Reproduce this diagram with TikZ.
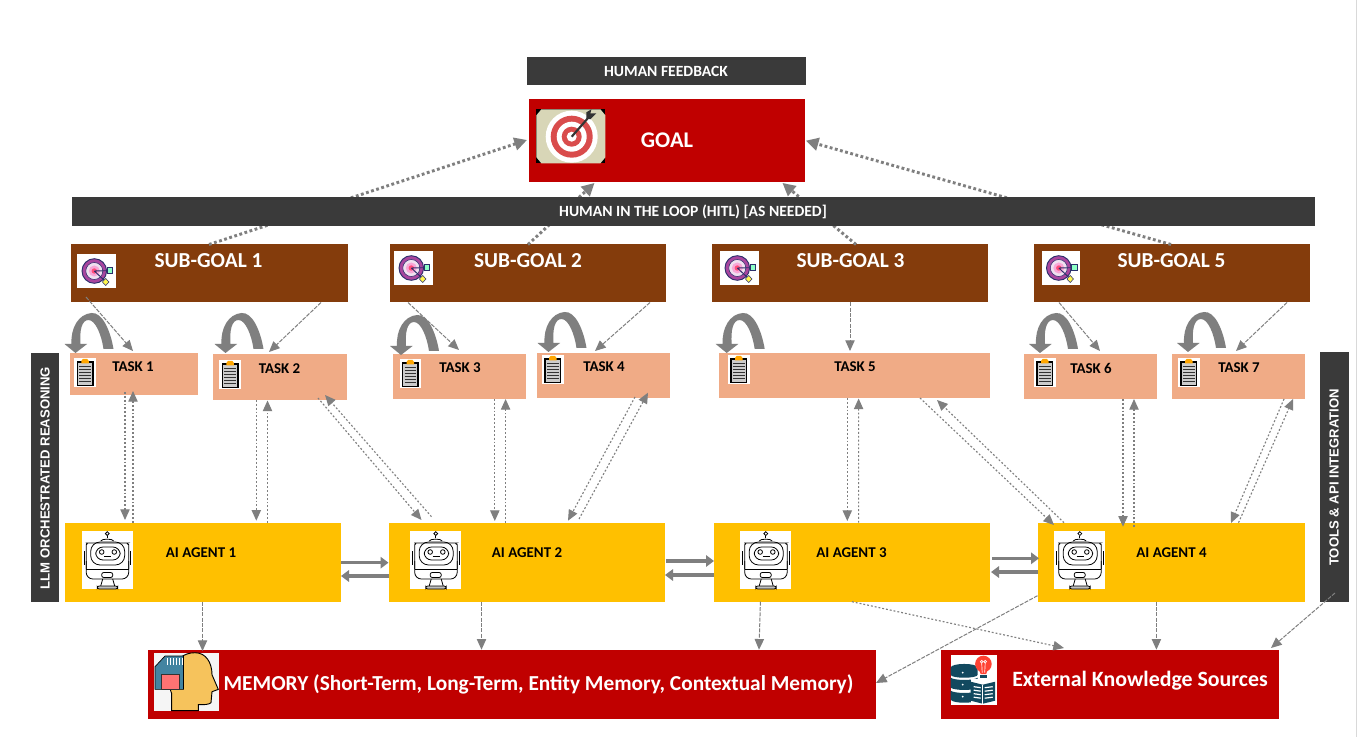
\documentclass[tikz,border=0pt]{standalone}
\usepackage{fontspec}
\setmainfont{Carlito}
\newfontfamily\widefont{Liberation Sans}
\usetikzlibrary{arrows.meta}
\definecolor{cred}{HTML}{C00000}
\definecolor{cbrown}{HTML}{843C0C}
\definecolor{ctask}{HTML}{F0AB86}
\definecolor{cagent}{HTML}{FFC000}
\definecolor{cbar}{HTML}{3A3A3A}
\definecolor{cgray}{HTML}{7F7F7F}
\definecolor{cteal}{HTML}{12495F}
\definecolor{cring}{HTML}{A8459E}
\definecolor{cnavy}{HTML}{2B2F6B}
\definecolor{cskin}{HTML}{F6C35C}
\newdimen\px \px=0.75pt
% \boxn{name}{x1}{y1}{x2}{y2}{colour}
\newcommand\boxn[6]{\pgfmathsetmacro\bw{(#4-#2)*0.75}\pgfmathsetmacro\bh{(#5-#3)*0.75}%
  \node[rectangle,fill=#6,inner sep=0pt,outer sep=0pt,anchor=north west,minimum width=\bw pt,minimum height=\bh pt] (#1) at (#2,#3) {};}
% \link[style]{a}{dx}{dy}{b}{dx}{dy}: offsets from north west corners, in px, y downward
\newcommand\link[7][thindot]{\draw[#1] ([xshift=#3\px,yshift=-#4\px]#2.north west) -- ([xshift=#6\px,yshift=-#7\px]#5.north west);}
\tikzset{
  thickdot/.style={draw=cgray,line width=2.2pt,dash pattern=on 2.1pt off 1.9pt,-{Triangle[length=9.5pt,width=9.5pt]}},
  thindot/.style={draw=cgray,line width=0.85pt,dash pattern=on 1.4pt off 1.5pt,-{Triangle[length=8pt,width=7pt]}},
  thindash/.style={draw=cgray,line width=0.75pt,dash pattern=on 3pt off 1pt,-{Triangle[length=8pt,width=7pt]}},
  solidarrow/.style={draw=cgray,line width=2.3pt,-{Triangle[length=6pt,width=8.5pt]}},
  whitebold/.style={text=white,font=\fontsize{16}{18}\selectfont\bfseries,inner sep=0pt},
  barlabel/.style={text=white,font=\fontsize{11.7}{14}\selectfont\bfseries,inner sep=0pt},
  sidelabel/.style={text=white,font=\fontsize{9.85}{12}\selectfont\widefont\bfseries,inner sep=0pt,rotate=90},
  tasklabel/.style={text=black,font=\fontsize{11.2}{13}\selectfont\bfseries,inner sep=0pt},
  goalicon/.pic={
    \fill[black] (0,0) rectangle (69,54);
    \fill[black!12!white!85!olive] (5,0) -- (64,0) -- (69,6) -- (69,48) -- (64,54) -- (5,54) -- (0,48) -- (0,6) -- cycle;
    \fill[white] (35.3,27.4) circle[radius=26];
    \fill[red!65!white!85!black] (35.3,27.4) circle[radius=21];
    \fill[white] (35.3,27.4) circle[radius=15];
    \fill[red!65!white!85!black] (35.3,27.4) circle[radius=10];
    \fill[white] (35.3,27.4) circle[radius=5];
    \draw[black!80,line width=1.6pt] (35.3,27.4) -- (54,6);
    \fill[black!80] (50,3) -- (55,0) -- (54,4) -- (60,4) -- (54,10) -- (50,9) -- cycle;
  },
  subicon/.pic={
    \fill[white] (0,0) rectangle (38.5,34);
    \draw[draw=cnavy,fill=cring,line width=0.7pt] (17.3,17) circle[radius=12.3];
    \draw[draw=cnavy,fill=violet!12!white,line width=0.4pt] (17.3,17) circle[radius=8.5];
    \fill[magenta!35!white] (17.3,17) circle[radius=5.5];
    \fill[red!75!magenta!70!white] (17.3,17) circle[radius=2.7];
    \draw[cnavy,line width=0.7pt] (17.3,17) -- (30,16.7) (17.3,17) -- (27,26);
    \draw[draw=cnavy,fill=green!50!cyan!45!white,line width=0.4pt] (30,13.7) rectangle (35.5,19.7);
    \draw[draw=cnavy,fill=yellow!70!white,line width=0.4pt] (28.7,24.5) -- (32,28) -- (28.7,31.5) -- (25.4,28) -- cycle;
  },
  clipicon/.pic={
    \fill[white] (0,0) rectangle (21.5,29);
    \draw[black,fill=black!20,line width=1.1pt] (3,4) rectangle (18.5,27.5);
    \foreach \yy in {8.5,11.5,14.5,17.5,20.5,23.5}{\draw[black!80,line width=0.75pt] (5,\yy) -- (16.5,\yy);}
    \fill[orange!70!yellow] (7,3) -- (8.5,1) -- (13,1) -- (14.5,3) -- (14.5,5.5) -- (7,5.5) -- cycle;
  },
  roboticon/.pic={
    \fill[white] (0,0) rectangle (51,58);
    \begin{scope}[black,line width=0.6pt]
    \draw (25.6,2.6) circle[radius=1.9];
    \draw (25.6,4.5) -- (25.6,7);
    \draw (19,10) .. controls (20,7.5) and (31,7.5) .. (32,10);
    \draw[rounded corners=4pt] (4.5,38) -- (4.5,19) .. controls (4.5,14) and (7,12) .. (10,12) -- (41,12) .. controls (44,12) and (47,14) .. (47,19) -- (47,38);
    \draw[rounded corners=5pt] (4.5,30) -- (4.5,48) -- (47,48) -- (47,30);
    \draw (4.5,38) -- (47,38);
    \draw[rounded corners=7pt] (9,11) rectangle (43,34);
    \draw[rounded corners=5.5pt] (14,16) rectangle (38.5,29);
    \draw (20,21) circle[radius=2.3] (32.6,21) circle[radius=2.3];
    \draw (22.5,25.3) -- (29.5,25.3);
    \draw[rounded corners=1.5pt] (20,41.5) rectangle (31,46.5);
    \draw (21,48) -- (19,55) (31,48) -- (33,55);
    \draw[rounded corners=1.5pt,fill=black!25] (15.5,55) rectangle (36,58);
    \draw (2.5,20) -- (2.5,34) (49,20) -- (49,34);
    \end{scope}
  },
  headicon/.pic={
    \fill[black!4] (0,0) rectangle (64.5,58);
    \draw[black,fill=cskin,line width=0.7pt] (17.7,58) -- (17.7,41) .. controls (12,28) and (18,0) .. (41,0) .. controls (52,0) and (58,10) .. (58,22) -- (64.3,36.7) -- (58,39) -- (57,50) .. controls (55,52) and (50,52) .. (44.3,52) -- (44.3,58) -- cycle;
    \draw[black,fill=cyan!60!black,line width=0.5pt] (1,14) -- (11,3.3) -- (29.5,3.3) -- (29.5,36.7) -- (1,36.7) -- cycle;
    \foreach \xx in {13,16,19,22,25,28}{\draw[white,line width=0.6pt] (\xx,5.5) -- (\xx,12);}
    \draw[black!80,fill=red!55!white,line width=0.5pt] (7,22) rectangle (25,36.7);
  },
  kbicon/.pic={
    \fill[white] (0,0) rectangle (46,50.5);
    \begin{scope}
    \fill[cteal] (0,13) .. controls (0,8) and (27,8) .. (27,13) -- (27,20) .. controls (27,24) and (0,24) .. (0,20) -- cycle;
    \fill[cteal] (0,23) .. controls (4,26) and (23,26) .. (27,23) -- (27,33) .. controls (23,36) and (4,36) .. (0,33) -- cycle;
    \fill[cteal] (0,36) .. controls (4,39) and (23,39) .. (27,36) -- (27,45) .. controls (25,49) and (2,49) .. (0,45) -- cycle;
    \fill[white] (12,18) circle[radius=1] (12,30) circle[radius=1] (12,42) circle[radius=1];
    \end{scope}
    \fill[red!85!orange!80!white] (32.7,9.3) circle[radius=8.3];
    \fill[red!85!orange!80!white] (28,14) -- (37,14) -- (35.5,19.5) -- (30,19.5) -- cycle;
    \draw[white,line width=0.5pt] (31,7) circle[radius=1.3] (34.5,7) circle[radius=1.3] (31,8.5) -- (31.5,18) (34.5,8.5) -- (34,18);
    \fill[cteal] (29.5,20.5) rectangle (36,23.5);
    \fill[white] (20,24.5) rectangle (46,50.5);
    \fill[cteal] (20,27) -- (32,30) -- (44.5,27) -- (44.5,46) -- (32,49) -- (20,46) -- cycle;
    \draw[white,line width=0.5pt] (32,30) -- (32,49);
    \foreach \yy in {33,36.5,40,43.5}{\draw[white,line width=0.9pt] (23,\yy-1) -- (30,\yy) (34,\yy) -- (42,\yy-1);}
  },
  loopicon/.pic={
    \fill[cgray] (0,0) -- (11.6,-9) -- (5,-9) .. controls (4,-22) and (6,-33) .. (13,-33) .. controls (20,-33) and (26,-18) .. (28,-4) -- (38,-4) .. controls (35,-22) and (27,-41) .. (16,-40) .. controls (3,-39) and (-5,-25) .. (-4,-9) -- (-11,-9) -- cycle;
  },
}
\begin{document}
\begin{tikzpicture}[x=0.75pt,y=-0.75pt]
\useasboundingbox (0,0) rectangle (1358,737);
\fill[white] (0,0) rectangle (1358,737);
\draw[black!15,line width=0.6pt] (1356.5,0) -- (1356.5,737);

% boxes
\boxn{goal}{528.5}{99}{805}{182}{cred}
\boxn{sg1}{71}{244.5}{347.5}{302.5}{cbrown}
\boxn{sg2}{390}{244.5}{666}{302.5}{cbrown}
\boxn{sg3}{712}{244.5}{988}{302.5}{cbrown}
\boxn{sg5}{1034}{244.5}{1309.5}{302.5}{cbrown}

% sub-goal to goal, passing behind the HITL bar
\link[thickdot]{sg1}{138}{0}{goal}{-1.5}{41}
\link[thickdot]{sg2}{138}{0}{goal}{66}{84}
\link[thickdot]{sg3}{144}{0}{goal}{254}{84}
\link[thickdot]{sg5}{137}{0}{goal}{277.3}{41.7}

\boxn{hf}{527}{57}{806}{85}{cbar}
\boxn{hitl}{72}{197}{1315}{226}{cbar}
\boxn{t1}{70}{353}{198}{395}{ctask}
\boxn{t2}{213}{354}{346.5}{400}{ctask}
\boxn{t3}{393}{354}{526}{399}{ctask}
\boxn{t4}{537}{353}{670}{398}{ctask}
\boxn{t5}{719}{353}{990}{398}{ctask}
\boxn{t6}{1024}{354}{1156.5}{399}{ctask}
\boxn{t7}{1172}{354}{1305}{399}{ctask}
\boxn{a1}{65}{522.7}{341}{601.7}{cagent}
\boxn{a2}{388.5}{522.7}{665}{601.7}{cagent}
\boxn{a3}{713.7}{522.7}{990}{601.7}{cagent}
\boxn{a4}{1037.5}{522.7}{1305}{601.7}{cagent}
\boxn{mem}{148}{649.7}{876}{718.5}{cred}
\boxn{ext}{941}{649.7}{1279}{718.5}{cred}
\boxn{llm}{31}{353}{59}{602}{cbar}
\boxn{tools}{1320}{352}{1348.5}{602}{cbar}

% icons
\pic (igoal) at (536.4,109.3) {goalicon};
\pic (is1) at (77,254) {subicon};
\pic (is2) at (394,251) {subicon};
\pic (is3) at (720,251) {subicon};
\pic (is5) at (1041.5,251) {subicon};
\pic (ic1) at (74.3,358) {clipicon};
\pic (ic2) at (219.4,360) {clipicon};
\pic (ic3) at (399.5,359) {clipicon};
\pic (ic4) at (542,355) {clipicon};
\pic (ic5) at (728,355) {clipicon};
\pic (ic6) at (1034,358) {clipicon};
\pic (ic7) at (1178,358) {clipicon};
\pic (ir1) at (81.7,531) {roboticon};
\pic (ir2) at (410.2,531) {roboticon};
\pic (ir3) at (740.2,531) {roboticon};
\pic (ir4) at (1054.2,531) {roboticon};
\pic (ihead) at (154,652.7) {headicon};
\pic (ikb) at (950.7,654.7) {kbicon};

% self loops
\pic (l1) at (75.5,353) {loopicon};
\pic (l2) at (225.5,353) {loopicon};
\pic (l3) at (401,355) {loopicon};
\pic (l4) at (548.5,352) {loopicon};
\pic (l5) at (726.7,353) {loopicon};
\pic (l6) at (1040,353) {loopicon};
\pic (l7) at (1188,352) {loopicon};

% sub-goal to task
\link[thindash]{sg1}{15}{52.5}{t1}{63}{-2}
\link[thindash]{sg1}{250}{58}{t2}{56}{-2}
\link[thindash]{sg2}{18}{58}{t3}{66}{-4}
\link[thindash]{sg2}{260}{58}{t4}{58}{-2}
\link[thindash]{sg3}{138}{58}{t5}{131}{-2}
\link[thindash]{sg5}{25}{58}{t6}{76}{-3}
\link[thindash]{sg5}{253}{58}{t7}{64}{-3}

% task and agent
\link{t1}{55}{39}{a1}{60}{-2.7}
\link{a1}{68}{0}{t1}{63}{38}
\link{t2}{43.3}{46}{a1}{191.3}{-2}
\link{a1}{202.5}{0}{t2}{54.5}{46.5}
\link{t2}{105}{44}{a2}{33}{-2.7}
\link{a2}{43}{-6}{t2}{112}{41}
\link{t3}{101.8}{45}{a2}{106.3}{-1.7}
\link{a2}{117.1}{0}{t3}{112.6}{45}
\link{t4}{98}{44}{a2}{179.5}{-2}
\link{a2}{190.5}{-3.7}{t4}{111}{39.7}
\link{t5}{128.3}{45}{a3}{133.6}{-1.7}
\link{a3}{144.9}{0}{t5}{139.6}{45.5}
\link{t5}{201}{45}{a4}{16.5}{2.3}
\link{a4}{26.5}{0}{t5}{218}{47}
\link{t6}{99}{45}{a4}{85.5}{4}
\link{a4}{96.5}{4.3}{t6}{110}{45}
\link{t7}{112}{45}{a4}{193.5}{0.3}
\link{a4}{201}{0}{t7}{121}{45}

% agent to agent
\link[solidarrow]{a1}{276}{40}{a2}{0}{40}
\link[solidarrow]{a2}{0}{53.3}{a1}{276}{53.3}
\link[solidarrow]{a2}{277.5}{38.3}{a3}{0.3}{38.3}
\link[solidarrow]{a3}{0}{52.3}{a2}{276.5}{52.3}
\link[solidarrow]{a3}{278.3}{35.6}{a4}{1.5}{35.6}
\link[solidarrow]{a4}{0}{49.3}{a3}{277.3}{49.3}

% agents to stores
\link[thindash]{a1}{137.5}{79}{mem}{54.5}{1.3}
\link[thindash]{a2}{93}{79}{mem}{333.5}{0}
\link[thindash]{a3}{46.7}{79}{mem}{611}{0}
\link[thindash]{a4}{0}{73}{mem}{728}{33.3}
\link[thindot]{a3}{138.3}{79}{ext}{123}{-1.7}
\link[thindash]{a4}{118.9}{79}{ext}{215.4}{0}
\link[thindash]{tools}{15}{241}{ext}{330}{-1.7}

% labels
\node[barlabel] (thf) at (666,71) {HUMAN FEEDBACK};
\node[whitebold,font=\fontsize{16.8}{18}\selectfont\bfseries] (tgoal) at (667,140) {GOAL};
\node[barlabel] (thitl) at (693,211.5) {HUMAN IN THE LOOP (HITL) [AS NEEDED]};
\node[whitebold] (ts1) at (208.5,261) {SUB-GOAL 1};
\node[whitebold] (ts2) at (528,261) {SUB-GOAL 2};
\node[whitebold] (ts3) at (850.5,261) {SUB-GOAL 3};
\node[whitebold] (ts5) at (1171.5,261) {SUB-GOAL 5};
\node[tasklabel] (tt1) at (133,367) {TASK 1};
\node[tasklabel] (tt2) at (279.5,369) {TASK 2};
\node[tasklabel] (tt3) at (460,368) {TASK 3};
\node[tasklabel] (tt4) at (604,367) {TASK 4};
\node[tasklabel] (tt5) at (855,367) {TASK 5};
\node[tasklabel] (tt6) at (1091,368) {TASK 6};
\node[tasklabel] (tt7) at (1239,368) {TASK 7};
\node[tasklabel] (ta1) at (201,553) {AI AGENT 1};
\node[tasklabel] (ta2) at (527,553) {AI AGENT 2};
\node[tasklabel] (ta3) at (851.5,553) {AI AGENT 3};
\node[tasklabel] (ta4) at (1171.5,553) {AI AGENT 4};
\node[whitebold,font=\fontsize{16}{18}\selectfont\bfseries] (tmem) at (538.5,684) {MEMORY (Short-Term, Long-Term, Entity Memory, Contextual Memory)};
\node[whitebold,font=\fontsize{16.4}{18}\selectfont\bfseries] (text) at (1140,680.5) {External Knowledge Sources};
\node[sidelabel] (tllm) at (45,478) {LLM ORCHESTRATED REASONING};
\node[sidelabel] (ttools) at (1334,477.5) {TOOLS \& API INTEGRATION};
\end{tikzpicture}
\end{document}
